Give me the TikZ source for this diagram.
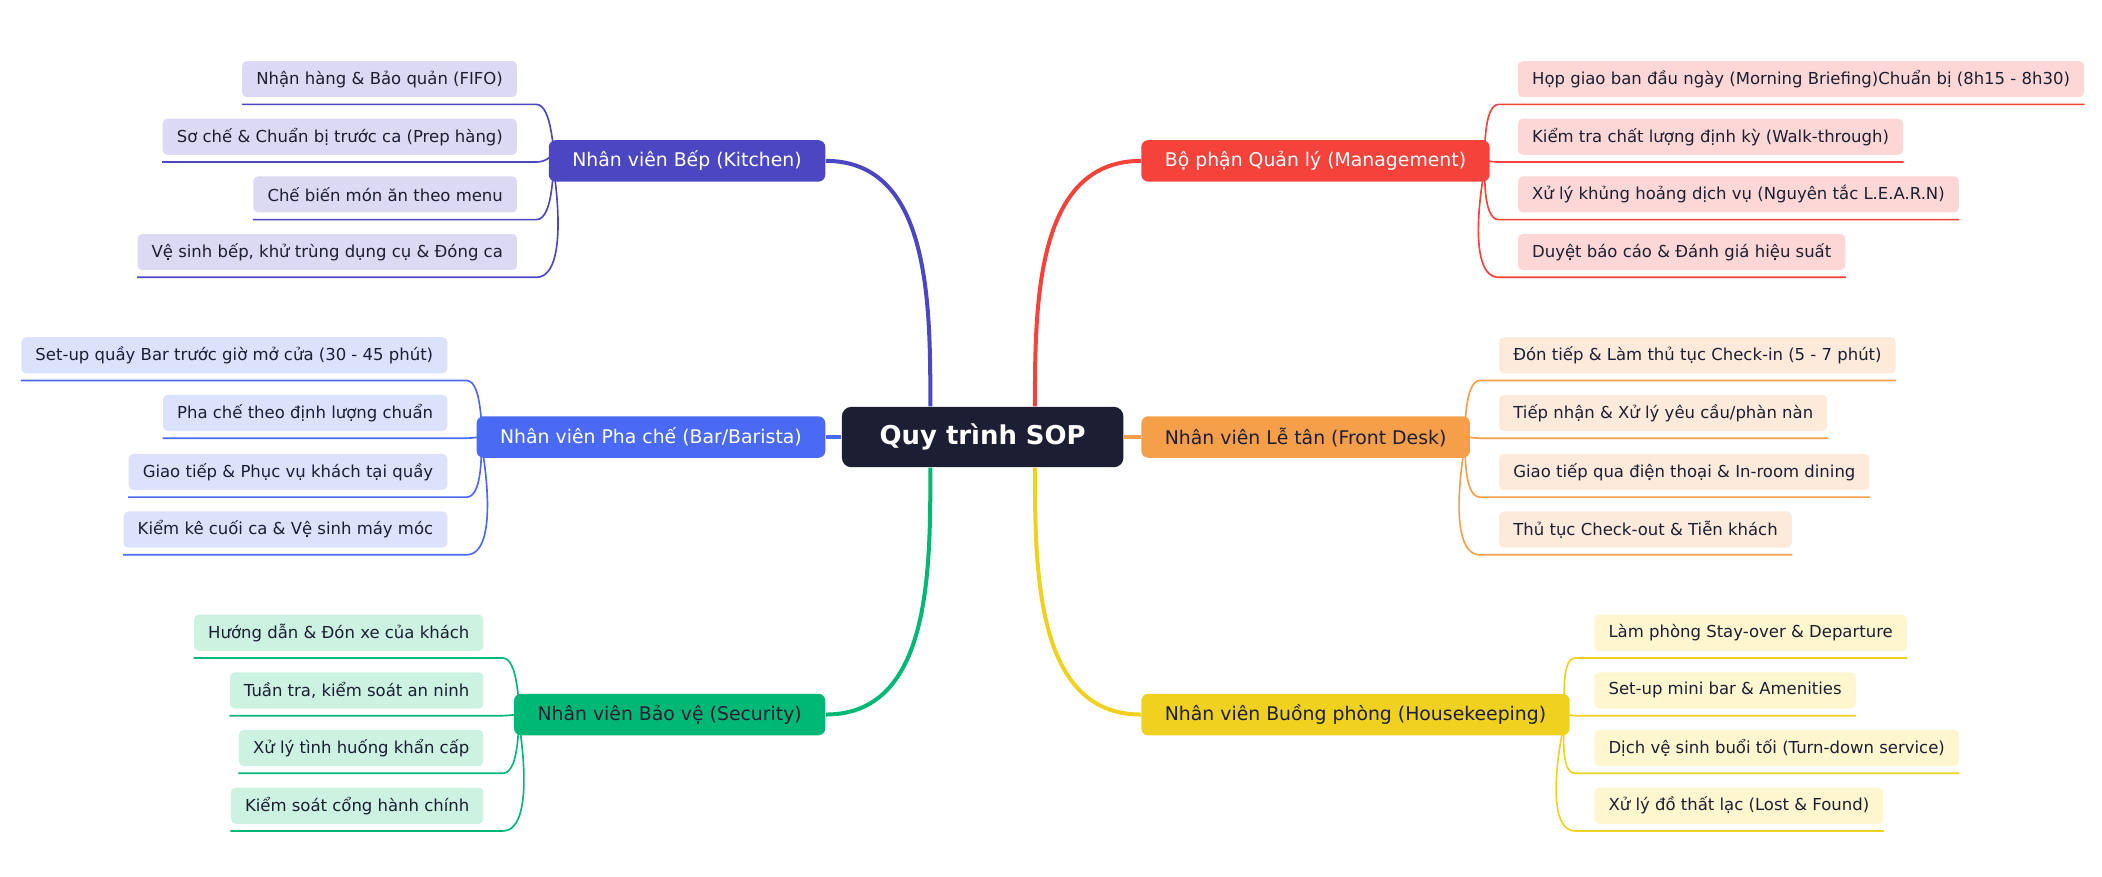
\documentclass[tikz,border=0pt]{standalone}
\usepackage{fontspec}
\setmainfont{DejaVu Sans}
\usetikzlibrary{calc}

\definecolor{ink}{HTML}{1C1F33}
\definecolor{kc}{HTML}{4B47C2}\definecolor{kl}{HTML}{DCDAF2}
\definecolor{bc}{HTML}{4A69F5}\definecolor{bl}{HTML}{DDE2FC}
\definecolor{sc}{HTML}{00B875}\definecolor{sl}{HTML}{CCF2E2}
\definecolor{mc}{HTML}{F5433B}\definecolor{ml}{HTML}{FDD7D5}
\definecolor{fc}{HTML}{F59F4B}\definecolor{fl}{HTML}{FDEADB}
\definecolor{hc}{HTML}{F0D11F}\definecolor{hl}{HTML}{FDF6CF}

\tikzset{
  leaf/.style={rounded corners=2pt, text=ink, inner xsep=6pt, minimum height=0.54cm,
    font=\fontsize{7pt}{8pt}\selectfont},
  branch/.style={rounded corners=3pt, inner xsep=10pt, minimum height=0.62cm,
    font=\fontsize{8pt}{9pt}\selectfont},
  trunk/.style={line width=1.7pt},
  twig/.style={line width=0.7pt}
}

\begin{document}
\begin{tikzpicture}[x=0.02cm,y=-0.02cm]
    \useasboundingbox (0,0) rectangle (1568,654);

    %center
    \node[fill=ink, text=white, rounded corners=4pt, minimum width=4.2cm, minimum height=0.9cm,
      font=\fontsize{11pt}{12pt}\selectfont\bfseries] (C) at (733,326) {Quy trình SOP};

    %branches
    \node[branch, fill=kc, text=white, anchor=east] (K) at (616,120) {Nhân viên Bếp (Kitchen)};
    \node[branch, fill=bc, text=white, anchor=east] (B) at (616,326) {Nhân viên Pha chế (Bar/Barista)};
    \node[branch, fill=sc, text=ink, anchor=east] (S) at (616,533) {Nhân viên Bảo vệ (Security)};
    \node[branch, fill=mc, text=white, anchor=west] (M) at (851,120) {Bộ phận Quản lý (Management)};
    \node[branch, fill=fc, text=ink, anchor=west] (F) at (851,326) {Nhân viên Lễ tân (Front Desk)};
    \node[branch, fill=hc, text=ink, anchor=west] (H) at (851,533) {Nhân viên Buồng phòng (Housekeeping)};

    \draw[kc, trunk] ($(C.north)+(-39,0)$) to[out=90,in=0] (K.east);
    \draw[bc, trunk] (C.west) -- (B.east);
    \draw[sc, trunk] ($(C.south)+(-39,0)$) to[out=-90,in=0] (S.east);
    \draw[mc, trunk] ($(C.north)+(39,0)$) to[out=90,in=180] (M.west);
    \draw[fc, trunk] (C.east) -- (F.east -| F.west);
    \draw[hc, trunk] ($(C.south)+(39,0)$) to[out=-90,in=180] (H.west);

    %left leaves
    \foreach \yy/\dy/\ang/\txt [count=\i] in {
      59/-13/-100/{Nhận hàng \& Bảo quản (FIFO)},
      102/-10/-100/{Sơ chế \& Chuẩn bị trước ca (Prep hàng)},
      145/10/100/{Chế biến món ăn theo menu},
      188/13/100/{Vệ sinh bếp, khử trùng dụng cụ \& Đóng ca}} {
      \node[leaf, fill=kl, anchor=east] (k\i) at (386,\yy) {\txt};
      \draw[kc, twig] ($(k\i.south west)+(0,5)$) -- ($(k\i.south east)+(14,5)$)
        to[out=0,in=\ang] ($(K.west)+(5,\dy)$);
    }
    \foreach \yy/\dy/\ang/\txt [count=\i] in {
      265/-13/-100/{Set-up quầy Bar trước giờ mở cửa (30 - 45 phút)},
      308/0/180/{Pha chế theo định lượng chuẩn},
      352/10/100/{Giao tiếp \& Phục vụ khách tại quầy},
      395/13/100/{Kiểm kê cuối ca \& Vệ sinh máy móc}} {
      \node[leaf, fill=bl, anchor=east] (b\i) at (334,\yy) {\txt};
      \draw[bc, twig] ($(b\i.south west)+(0,5)$) -- ($(b\i.south east)+(14,5)$)
        to[out=0,in=\ang] ($(B.west)+(5,\dy)$);
    }
    \foreach \yy/\dy/\ang/\txt [count=\i] in {
      472/-13/-100/{Hướng dẫn \& Đón xe của khách},
      515/0/180/{Tuần tra, kiểm soát an ninh},
      558/10/100/{Xử lý tình huống khẩn cấp},
      601/13/100/{Kiểm soát cổng hành chính}} {
      \node[leaf, fill=sl, anchor=east] (s\i) at (361,\yy) {\txt};
      \draw[sc, twig] ($(s\i.south west)+(0,5)$) -- ($(s\i.south east)+(14,5)$)
        to[out=0,in=\ang] ($(S.west)+(5,\dy)$);
    }

    %right leaves
    \foreach \yy/\dy/\ang/\txt [count=\i] in {
      59/-13/-80/{Họp giao ban đầu ngày (Morning Briefing)Chuẩn bị (8h15 - 8h30)},
      102/0/0/{Kiểm tra chất lượng định kỳ (Walk-through)},
      145/10/80/{Xử lý khủng hoảng dịch vụ (Nguyên tắc L.E.A.R.N)},
      188/13/80/{Duyệt báo cáo \& Đánh giá hiệu suất}} {
      \node[leaf, fill=ml, anchor=west] (m\i) at (1132,\yy) {\txt};
      \draw[mc, twig] ($(m\i.south east)+(0,5)$) -- ($(m\i.south west)+(-14,5)$)
        to[out=180,in=\ang] ($(M.east)+(-5,\dy)$);
    }
    \foreach \yy/\dy/\ang/\txt [count=\i] in {
      265/-13/-80/{Đón tiếp \& Làm thủ tục Check-in (5 - 7 phút)},
      308/0/0/{Tiếp nhận \& Xử lý yêu cầu/phàn nàn},
      352/10/80/{Giao tiếp qua điện thoại \& In-room dining},
      395/13/80/{Thủ tục Check-out \& Tiễn khách}} {
      \node[leaf, fill=fl, anchor=west] (f\i) at (1118,\yy) {\txt};
      \draw[fc, twig] ($(f\i.south east)+(0,5)$) -- ($(f\i.south west)+(-14,5)$)
        to[out=180,in=\ang] ($(F.east)+(-5,\dy)$);
    }
    \foreach \yy/\dy/\ang/\txt [count=\i] in {
      472/-13/-80/{Làm phòng Stay-over \& Departure},
      515/0/0/{Set-up mini bar \& Amenities},
      558/10/80/{Dịch vệ sinh buổi tối (Turn-down service)},
      601/13/80/{Xử lý đồ thất lạc (Lost \& Found)}} {
      \node[leaf, fill=hl, anchor=west] (h\i) at (1189,\yy) {\txt};
      \draw[hc, twig] ($(h\i.south east)+(0,5)$) -- ($(h\i.south west)+(-14,5)$)
        to[out=180,in=\ang] ($(H.east)+(-5,\dy)$);
    }
\end{tikzpicture}
\end{document}
